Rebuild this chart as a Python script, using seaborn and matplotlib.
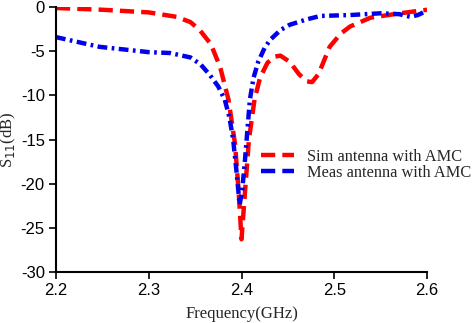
import matplotlib
matplotlib.use("Agg")
import matplotlib.pyplot as plt
import seaborn as sns
import pandas as pd
from matplotlib.lines import Line2D

sim_freq = [2.20, 2.25, 2.30, 2.33, 2.345, 2.355, 2.367, 2.377, 2.386, 2.393, 2.397, 2.400,
            2.403, 2.408, 2.414, 2.420, 2.428, 2.436, 2.442, 2.452, 2.462, 2.470,
            2.476, 2.483, 2.495, 2.507, 2.517, 2.539, 2.571, 2.600]
sim_s11 = [-0.1, -0.3, -0.6, -1.1, -1.7, -2.6, -4.2, -6.8, -10.5, -15.5, -21.0, -26.3,
           -22.0, -15.0, -10.5, -8.0, -6.3, -5.6, -5.5, -6.2, -7.6, -8.4,
           -8.5, -7.6, -4.5, -3.0, -2.2, -1.2, -0.7, -0.3]

meas_freq = [2.20, 2.247, 2.30, 2.323, 2.345, 2.356, 2.366, 2.375, 2.382, 2.387, 2.391,
             2.395, 2.398, 2.401, 2.404, 2.409, 2.413, 2.418, 2.425, 2.431, 2.442,
             2.452, 2.470, 2.485, 2.517, 2.550, 2.570, 2.582, 2.590, 2.598]
meas_s11 = [-3.4, -4.5, -5.1, -5.2, -5.7, -6.5, -7.7, -9.0, -10.5, -12.5, -15.0,
            -19.0, -22.4, -20.5, -17.0, -10.5, -8.0, -6.2, -4.6, -3.7, -2.6,
            -2.0, -1.4, -1.0, -0.9, -0.7, -0.8, -1.1, -0.9, -0.5]

sns.set_theme(style="white")
plt.rcParams['font.family'] = ['Liberation Sans', 'DejaVu Sans']

fig = plt.figure(figsize=(4.74, 3.23), dpi=100)
ax = fig.add_axes([0.118, 0.158, 0.783, 0.820])

df_sim = pd.DataFrame({"f": sim_freq, "s": sim_s11})
df_meas = pd.DataFrame({"f": meas_freq, "s": meas_s11})

sns.lineplot(data=df_sim, x="f", y="s", ax=ax, color="#ff0000", lw=3.2,
             linestyle=(0, (3.2, 1.6)), sort=False)
sns.lineplot(data=df_meas, x="f", y="s", ax=ax, color="#0000ee", lw=3.2,
             linestyle=(0, (2.2, 1.0, 0.6, 1.0)), sort=False)

ax.set_xlim(2.2, 2.6)
ax.set_ylim(-30, 0)
ax.set_xticks([2.2, 2.3, 2.4, 2.5, 2.6])
ax.set_xticklabels(["2.2", "2.3", "2.4", "2.5", "2.6"])
ax.set_yticks([0, -5, -10, -15, -20, -25, -30])
ax.set_yticklabels(["0", "-5", "-10", "-15", "-20", "-25", "-30"])
ax.tick_params(axis="both", labelsize=12, direction="out", length=5, width=1.2,
               bottom=True, left=True, colors="black", pad=3)
for s in ["top", "right"]:
    ax.spines[s].set_visible(False)
for s in ["left", "bottom"]:
    ax.spines[s].set_color("black")
    ax.spines[s].set_linewidth(1.5)

ax.set_xlabel("Frequency(GHz)", family="Liberation Serif", fontsize=12, labelpad=6)
ax.set_ylabel("S$_{11}$(dB)", family="Liberation Serif", fontsize=12, labelpad=2)

handles = [Line2D([], [], color="#ff0000", lw=3.2, linestyle=(0, (3.2, 1.6))),
           Line2D([], [], color="#0000ee", lw=3.2, linestyle=(0, (3.2, 1.6)))]
ax.legend(handles, ["Sim antenna with AMC", "Meas antenna with AMC"],
          loc="upper left", bbox_to_anchor=(0.53, 0.495), frameon=False,
          prop={"family": "Liberation Serif", "size": 11.8}, handlelength=2.0,
          handletextpad=0.8, labelspacing=0.0, borderpad=0)

fig.savefig("out.png", dpi=100)
